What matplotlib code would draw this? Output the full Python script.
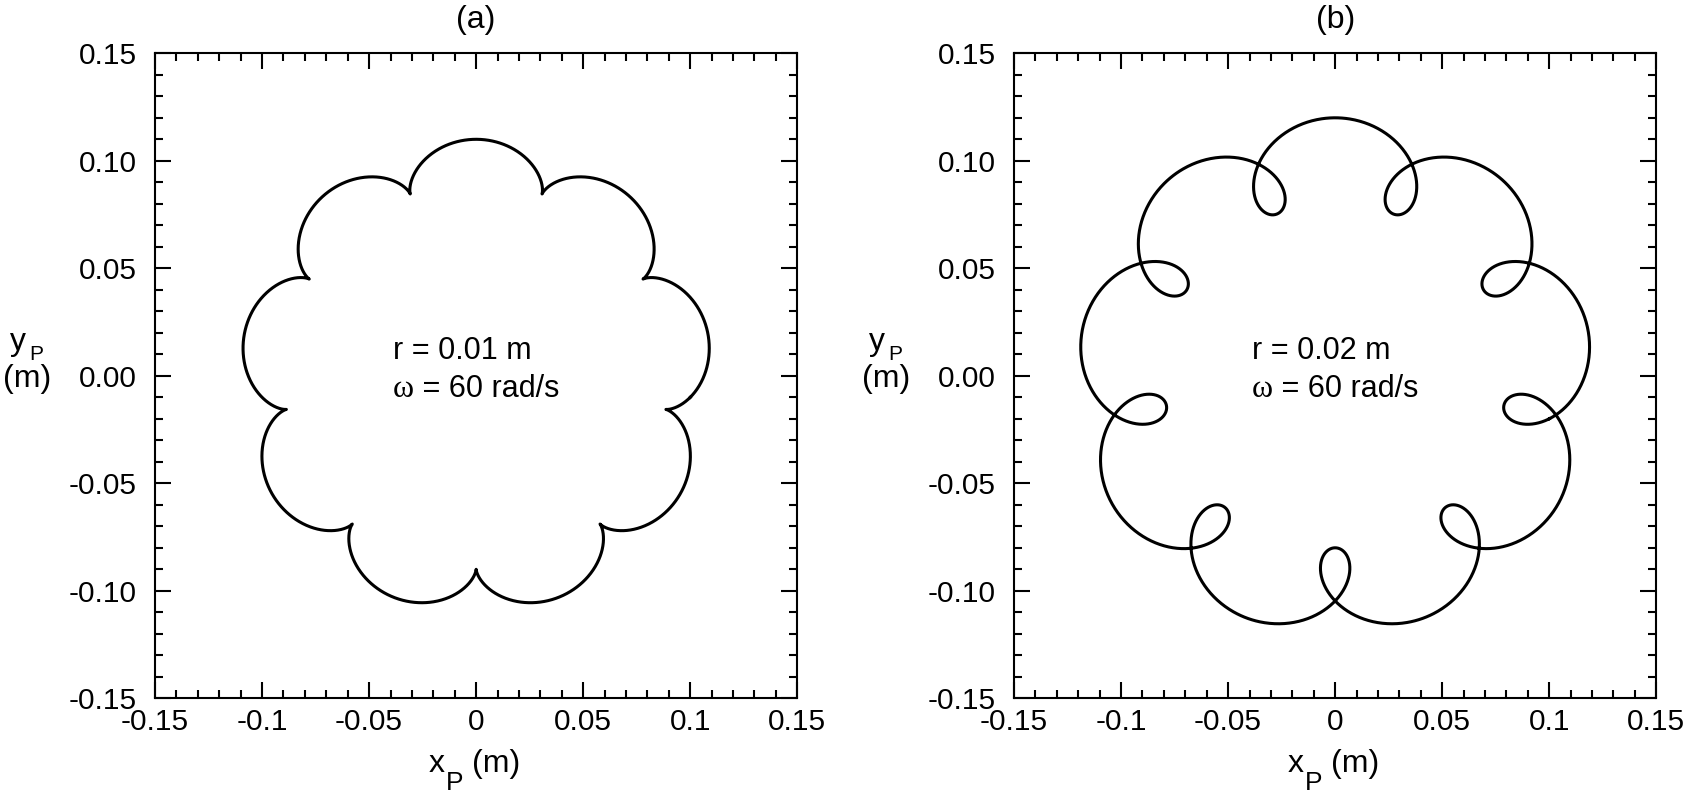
import numpy as np
import matplotlib
matplotlib.use("Agg")
import matplotlib.pyplot as plt
from matplotlib.ticker import MultipleLocator, FixedLocator, FixedFormatter
from matplotlib.offsetbox import TextArea, HPacker, VPacker, AnnotationBbox

# ---- data ----
panel_titles = ["(a)", "(b)"]
crank_radius = 0.10          # distance of planet centre from origin (m)
point_radius = [0.01, 0.02]  # r (m) for panels (a), (b)
speed_ratio = 10             # planet spin / crank rotation
omega = [60, 60]             # rad/s
x_ticks = [-0.15, -0.10, -0.05, 0.0, 0.05, 0.10, 0.15]
x_tick_labels = ["-0.15", "-0.1", "-0.05", "0", "0.05", "0.1", "0.15"]
y_ticks = [-0.15, -0.10, -0.05, 0.0, 0.05, 0.10, 0.15]
y_tick_labels = ["-0.15", "-0.10", "-0.05", "0.00", "0.05", "0.10", "0.15"]
annot_line1 = ["r = 0.01 m", "r = 0.02 m"]
annot_line2 = [" = 60 rad/s", " = 60 rad/s"]

W, H = 1690, 795
fig = plt.figure(figsize=(W / 100, H / 100), dpi=100)
plt.rcParams['font.family'] = ['Liberation Sans', 'DejaVu Sans']

ax_left_px = [155, 1014]
ax_w_px, ax_top_px, ax_bot_px = 642.3, 53.3, 698.3


def fx(px):
    return px / W


def fy(py):
    return 1 - py / H


for i in range(2):
    ax = fig.add_axes([fx(ax_left_px[i]), fy(ax_bot_px), ax_w_px / W,
                       (ax_bot_px - ax_top_px) / H])
    r = point_radius[i]
    t = np.linspace(0, 2 * np.pi / omega[i], 4000)
    th = omega[i] * t
    x = crank_radius * np.cos(th) + r * np.sin(speed_ratio * th)
    y = crank_radius * np.sin(th) - r * np.cos(speed_ratio * th)
    ax.plot(x, y, color='black', lw=2.2)

    ax.set_xlim(-0.15, 0.15)
    ax.set_ylim(-0.15, 0.15)
    ax.xaxis.set_major_locator(FixedLocator(x_ticks))
    ax.xaxis.set_major_formatter(FixedFormatter(x_tick_labels))
    ax.yaxis.set_major_locator(FixedLocator(y_ticks))
    ax.yaxis.set_major_formatter(FixedFormatter(y_tick_labels))
    ax.xaxis.set_minor_locator(MultipleLocator(0.01))
    ax.yaxis.set_minor_locator(MultipleLocator(0.01))
    ax.tick_params(which='both', direction='in', top=True, right=True,
                   width=1.5, labelsize=21.5)
    ax.tick_params(which='major', length=11.5)
    ax.tick_params(which='minor', length=5.8)
    ax.tick_params(axis='x', pad=7)
    ax.tick_params(axis='y', pad=13)
    for s in ax.spines.values():
        s.set_linewidth(1.5)
    ax.set_title(panel_titles[i], fontsize=23, pad=18)

    # annotation text
    l1 = TextArea(annot_line1[i], textprops=dict(fontsize=22))
    om = TextArea("ω", textprops=dict(fontsize=23, family='Liberation Serif'))
    rest = TextArea(annot_line2[i], textprops=dict(fontsize=22))
    l2 = HPacker(children=[om, rest], align="baseline", pad=0, sep=0)
    box = VPacker(children=[l1, l2], align="left", pad=0, sep=6)
    ab = AnnotationBbox(box, (-0.039, 0.0185), xycoords='data',
                        box_alignment=(0, 1), frameon=False, pad=0)
    ax.add_artist(ab)

    # x label: x_P (m)
    dx = ax_left_px[i] - 155
    fig.text(fx(429 + dx), fy(772), "x", fontsize=23, va='baseline')
    fig.text(fx(446 + dx), fy(790), "P", fontsize=19, va='baseline')
    fig.text(fx(472 + dx), fy(772), "(m)", fontsize=23, va='baseline')

    # y label: y_P (m)
    fig.text(fx(10 + dx), fy(350), "y", fontsize=23, va='baseline')
    fig.text(fx(29 + dx), fy(360), "P", fontsize=15, va='baseline')
    fig.text(fx(3 + dx), fy(387), "(m)", fontsize=23, va='baseline')

fig.savefig("out.png", dpi=100)
